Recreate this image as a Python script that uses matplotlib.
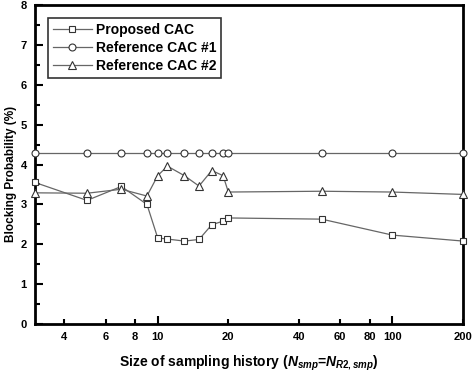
import matplotlib
matplotlib.use("Agg")
import matplotlib.pyplot as plt
from matplotlib.ticker import FixedLocator, NullFormatter

plt.rcParams['font.family'] = ['Liberation Sans', 'DejaVu Sans']
plt.rcParams['font.weight'] = 'bold'
plt.rcParams['mathtext.fontset'] = 'custom'
plt.rcParams['mathtext.it'] = 'Liberation Sans:italic:bold'
plt.rcParams['mathtext.rm'] = 'Liberation Sans:bold'

# sampling history sizes
n_samp = [3, 5, 7, 9, 10, 11, 13, 15, 17, 19, 20, 50, 100, 200]

# blocking probability (%)
proposed = [3.55, 3.10, 3.45, 3.00, 2.16, 2.13, 2.08, 2.12, 2.49, 2.58, 2.66, 2.63, 2.23, 2.08]
ref1 = [4.28] * len(n_samp)
ref2 = [3.29, 3.28, 3.38, 3.21, 3.72, 3.96, 3.72, 3.46, 3.85, 3.72, 3.31, 3.33, 3.31, 3.25]

major_x = [10, 100]
minor_x = [4, 6, 8, 20, 40, 60, 80, 200]

fig = plt.figure(figsize=(4.74, 3.73), dpi=100)
ax = fig.add_axes([0.0738, 0.1314, 0.903, 0.855])

line_kw = dict(color='#666666', lw=0.9, mfc='white', mec='#333333', mew=0.8)
ax.plot(n_samp, proposed, marker='s', ms=4.5, label='Proposed CAC', clip_on=False, zorder=3, **line_kw)
ax.plot(n_samp, ref1, marker='o', ms=5.0, label='Reference CAC #1', clip_on=False, zorder=3, **line_kw)
ax.plot(n_samp, ref2, marker='^', ms=5.5, label='Reference CAC #2', clip_on=False, zorder=3, **line_kw)

ax.set_xscale('log')
ax.set_xlim(3, 200)
ax.set_ylim(0, 8)

ax.xaxis.set_major_locator(FixedLocator(major_x))
ax.xaxis.set_minor_locator(FixedLocator(minor_x))
ax.set_xticklabels([str(v) for v in major_x])
ax.set_xticklabels([str(v) for v in minor_x], minor=True)

ax.set_yticks(range(0, 9))
ax.set_yticks([i + 0.5 for i in range(8)], minor=True)
ax.yaxis.set_minor_formatter(NullFormatter())

ax.tick_params(which='both', direction='in', top=False, right=False, width=1.5,
               labelsize=8, pad=6)
ax.tick_params(which='major', length=6)
ax.tick_params(which='minor', length=3.5)
for lbl in (ax.get_xticklabels() + ax.get_yticklabels()
            + ax.get_xticklabels(minor=True)):
    lbl.set_fontweight('bold')

for sp in ax.spines.values():
    sp.set_linewidth(2.0)

ax.set_ylabel('Blocking Probability (%)', fontsize=8.5, fontweight='bold')
ax.yaxis.set_label_coords(-0.043, 0.47)
ax.set_xlabel(r'Size of sampling history ($N_{smp}$=$N_{R2,smp}$)',
              fontsize=10, fontweight='bold', labelpad=8)

leg = ax.legend(loc='upper left', bbox_to_anchor=(0.03, 0.96), fontsize=10, frameon=True,
                fancybox=False, edgecolor='black', handlelength=2.8, borderpad=0.35,
                labelspacing=0.3, handletextpad=0.3, borderaxespad=0.0)
leg.get_frame().set_linewidth(1.2)
for t in leg.get_texts():
    t.set_fontweight('bold')

fig.savefig('out.png', dpi=100)
